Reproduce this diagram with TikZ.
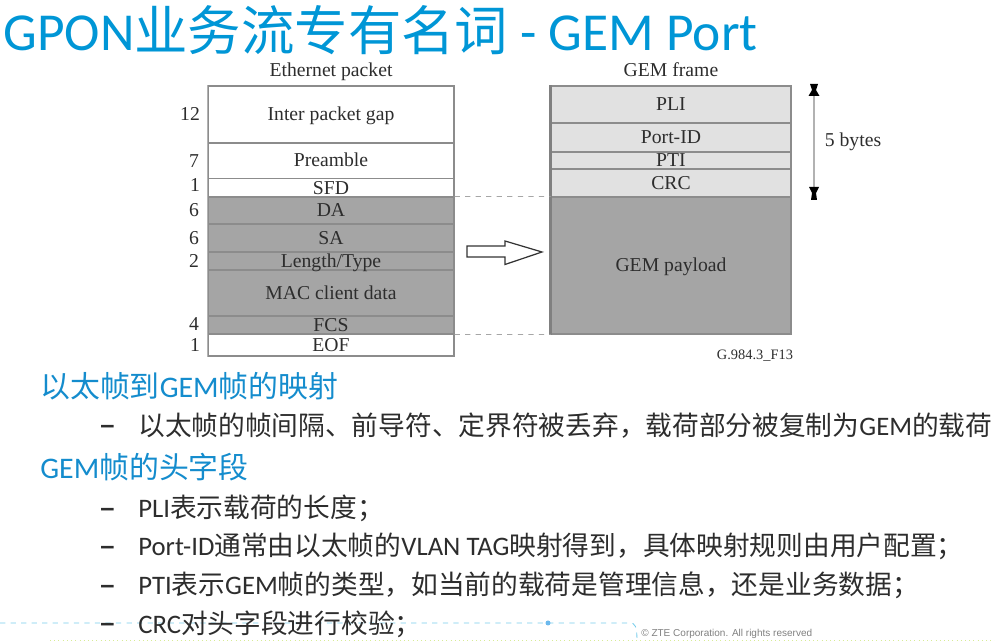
\documentclass[tikz,border=0pt]{standalone}
\usepackage{fontspec}
\setmainfont{Carlito}
\newfontfamily\zh{Noto Sans CJK SC}
\newfontfamily\figfont{Liberation Serif}
\newfontfamily\footfont{Liberation Sans}
\definecolor{titleblue}{RGB}{0,150,214}
\definecolor{headblue}{RGB}{20,140,205}
\definecolor{bodygray}{RGB}{45,45,45}
\definecolor{figgray}{RGB}{45,45,45}
\definecolor{darkfield}{RGB}{165,165,165}
\definecolor{lightfield}{RGB}{225,225,225}
\definecolor{footblue}{RGB}{120,205,235}
\definecolor{footgreen}{RGB}{215,235,150}
\tikzset{
  ethfield/.style={draw=gray!90,line width=0.6pt,minimum width=4.92cm,inner sep=0pt,text height=1.5ex,text depth=0pt,font=\figfont\fontsize{11.2}{11}\selectfont,text=figgray},
  gemfield/.style={ethfield,minimum width=4.8cm,fill=lightfield},
  bytecount/.style={inner sep=0pt,text height=1.5ex,text depth=0pt,font=\figfont\fontsize{11.2}{11}\selectfont,text=figgray},
  headline/.style={anchor=west,inner sep=0pt,text=headblue,font=\fontsize{17}{18}\selectfont},
  dashitem/.style={anchor=base west,inner sep=0pt,text=bodygray,font=\footfont\bfseries\fontsize{14.5}{15}\selectfont},
  bodyitem/.style={anchor=west,inner sep=0pt,text=bodygray,font=\fontsize{15.2}{16}\selectfont}
}
\begin{document}
\begin{tikzpicture}[x=0.02cm,y=-0.02cm]
\useasboundingbox (0,0) rectangle (995,641);
\node[anchor=base west,inner sep=0pt,text=titleblue,font=\fontsize{30.4}{32}\selectfont] (title) at (3,51) {\smash{GPON{\zh 业务流专有名词} - GEM Port}};
% footer
\coordinate (footstart) at (0,623);
\coordinate (footend) at (637,641);
\draw[dashed,footblue,line width=0.5pt] (footstart)--(630,623) .. controls (635,623) and (637,626) .. (footend);
\fill[footblue!90!blue] (548,623) circle (2.5);
\draw[dotted,footgreen,line width=0.4pt] (50,640)--(995,640);
\node[anchor=west,inner sep=0pt,text=gray,font=\footfont\fontsize{5.7}{6}\selectfont] (copyright) at (641,633.5) {© ZTE Corporation. All rights reserved};
% Ethernet packet
\node[bytecount] (ethname) at (331,70) {Ethernet packet};
\node[ethfield,minimum height=1.14cm] (ipg) at (331,114.5) {Inter packet gap};
\node[ethfield,minimum height=0.72cm] (pre) at (331,160.5) {Preamble};
\node[ethfield,fill=darkfield,minimum height=0.54cm] (da) at (331,210.5) {DA};
\node[ethfield,minimum height=0.38cm] (sfd) at (331,188) {SFD};
\node[ethfield,fill=darkfield,minimum height=0.56cm] (sa) at (331,238) {SA};
\node[ethfield,fill=darkfield,minimum height=0.92cm] (mac) at (331,293) {MAC client data};
\node[ethfield,fill=darkfield,minimum height=0.36cm] (len) at (331,261) {Length/Type};
\node[ethfield,fill=darkfield,minimum height=0.36cm] (fcs) at (331,325) {FCS};
\node[ethfield,minimum height=0.44cm] (eof) at (331,345) {EOF};
\node[bytecount] (n12) at (190,114) {12};
\node[bytecount] (n7) at (194,161) {7};
\node[bytecount] (n1a) at (195,185) {1};
\node[bytecount] (n6a) at (194,210) {6};
\node[bytecount] (n6b) at (194,238) {6};
\node[bytecount] (n2) at (194,261) {2};
\node[bytecount] (n4) at (194,324) {4};
\node[bytecount] (n1b) at (195,345) {1};
\draw[gray!60,line width=1pt] (ipg.north west)--(eof.south west);
% GEM frame
\node[bytecount] (gemname) at (671,70) {GEM frame};
\node[gemfield,minimum height=0.74cm] (pli) at (671,104.5) {PLI};
\node[gemfield,minimum height=0.58cm] (port) at (671,137.5) {Port-ID};
\node[gemfield,minimum height=0.34cm] (pti) at (671,160.5) {PTI};
\node[gemfield,minimum height=0.56cm] (crc) at (671,183) {CRC};
\node[gemfield,fill=darkfield,minimum height=2.74cm] (pay) at (671,265.5) {GEM payload};
\node[bytecount,font=\figfont\fontsize{8.2}{8}\selectfont] (figid) at (755,353) {G.984.3\_F13};
\draw[gray,line width=1.3pt] (pli.north west)--(pay.south west);
% dashed guides and big arrow
\draw[dashed,gray!70,line width=0.5pt] (da.north east)--(pay.north west);
\draw[dashed,gray!70,line width=0.5pt] (fcs.south east)--(pay.south west);
\draw[black!80,line width=0.7pt] (467,246)--(505,246)--(505,241)--(542,252)--(505,264.5)--(505,257)--(467,257)--cycle;
% 5 bytes
\coordinate (dimtop) at (814,90);
\coordinate (dimbot) at (814,193);
\draw[gray!60,line width=1pt] (dimtop)--(dimbot);
\fill (810,84)--(818,84)--(816,90)--(819.5,96)--(808.5,96)--(812,90)--cycle;
\fill (809,187)--(819,187)--(816,193)--(817,200)--(811,200)--(812,193)--cycle;
\node[bytecount] (fivebytes) at (853,140) {5 bytes};
% text
\node[headline] (h1) at (40,386) {{\zh 以太帧到}GEM{\zh 帧的映射}};
\node[dashitem] (d1) at (100,434) {–};
\node[bodyitem] (t1) at (138,426) {{\zh 以太帧的帧间隔、前导符、定界符被丢弃，载荷部分被复制为}GEM{\zh 的载荷}};
\node[headline] (h2) at (40,467) {GEM{\zh 帧的头字段}};
\node[dashitem] (d2) at (100,517) {–};
\node[bodyitem] (t2) at (138,508) {PLI{\zh 表示载荷的长度；}};
\node[dashitem] (d3) at (100,555) {–};
\node[bodyitem] (t3) at (138,546) {Port-ID{\zh 通常由以太帧的}VLAN TAG{\zh 映射得到，具体映射规则由用户配置；}};
\node[dashitem] (d4) at (100,594) {–};
\node[bodyitem] (t4) at (138,585) {PTI{\zh 表示}GEM{\zh 帧的类型，如当前的载荷是管理信息，还是业务数据；}};
\node[dashitem] (d5) at (100,632) {–};
\node[bodyitem] (t5) at (138,624) {CRC{\zh 对头字段进行校验；}};
\end{tikzpicture}
\end{document}
